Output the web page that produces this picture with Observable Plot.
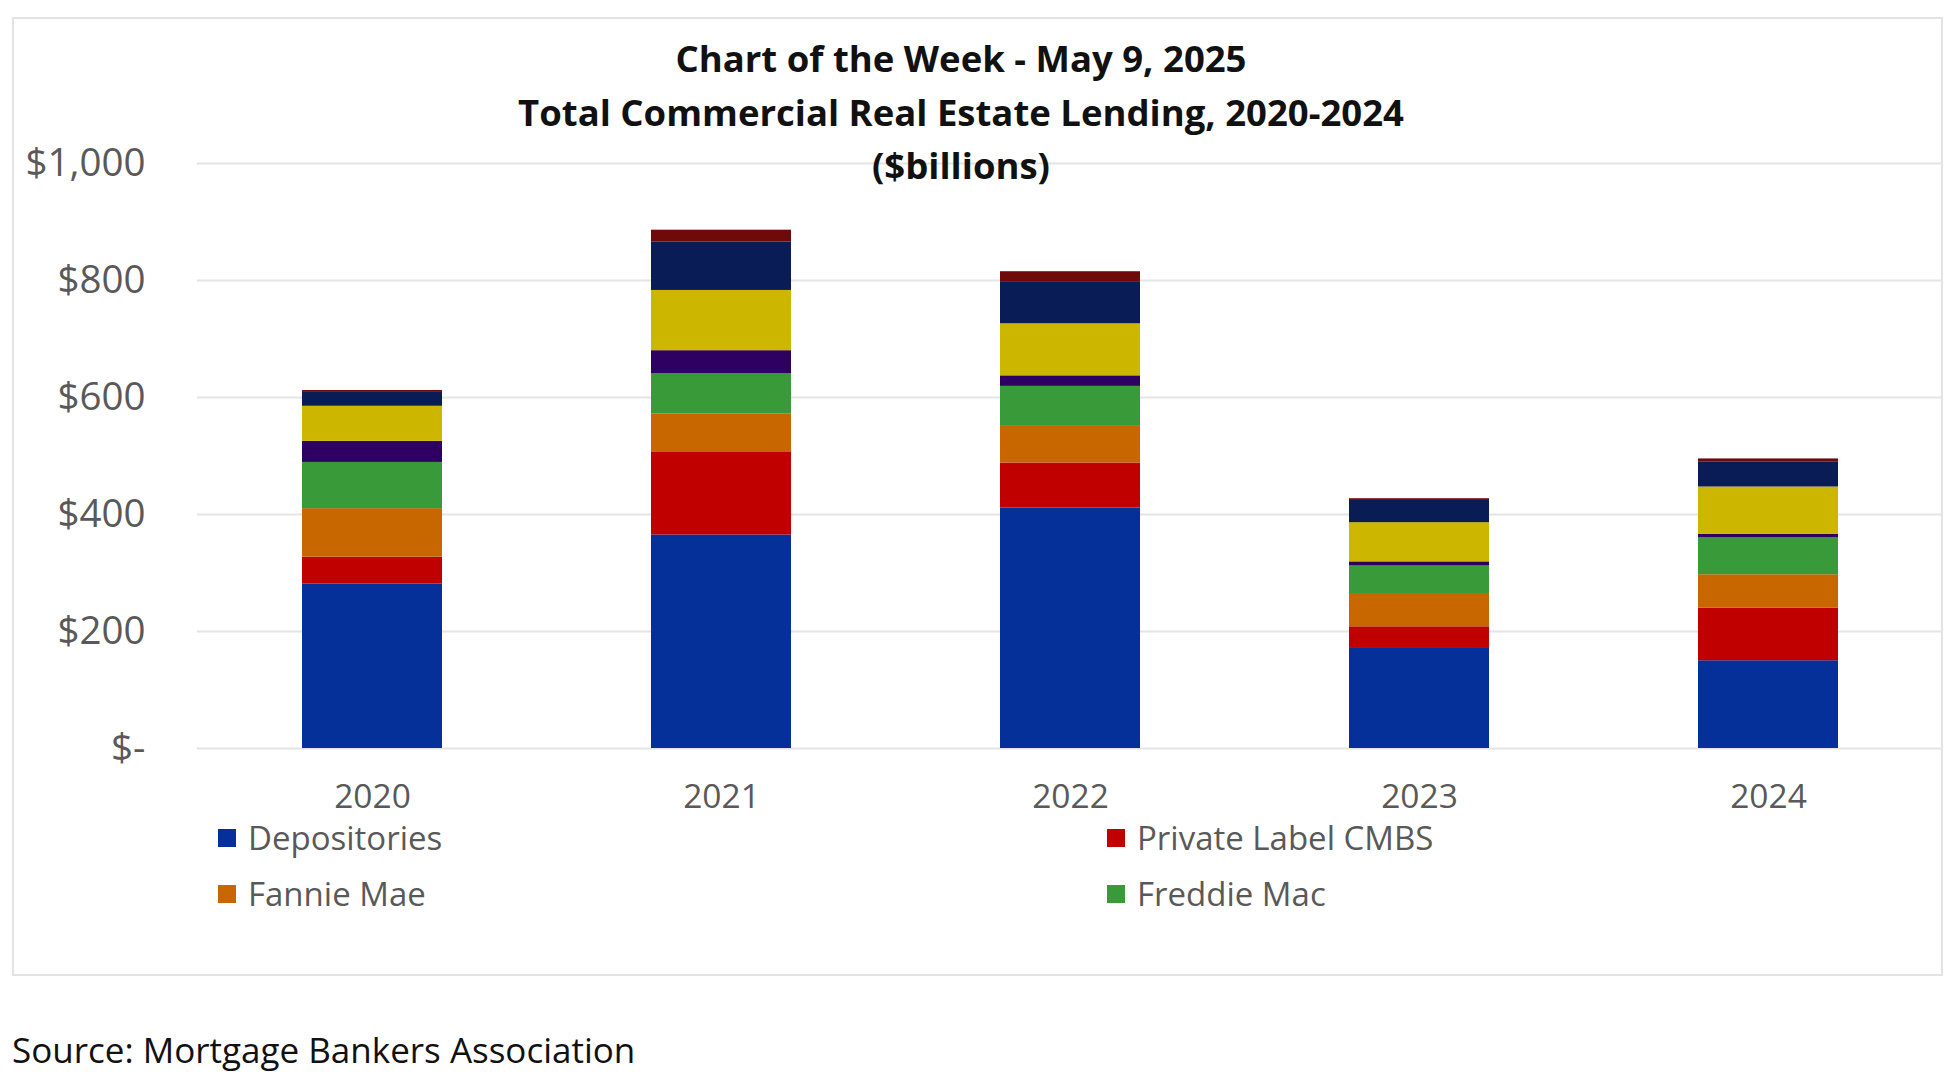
<!DOCTYPE html>
<html>
<head>
<meta charset="utf-8">
<script src="https://cdn.jsdelivr.net/npm/d3@7"></script>
<script src="https://cdn.jsdelivr.net/npm/@observablehq/plot@0.6"></script>
<style>
  html, body { margin: 0; padding: 0; background: #fff; }
  body { width: 1955px; height: 1085px; position: relative; overflow: hidden; font-family: "Open Sans", sans-serif; }
  #frame { position: absolute; left: 12px; top: 17px; width: 1927px; height: 955px; border: 2px solid #e3e3e3; box-sizing: content-box; }
  #chart { position: absolute; left: 0; top: 0; }
  .title { position: absolute; left: 0; width: 1922px; text-align: center; font-weight: 700; font-size: 36.5px; color: #111; line-height: 1; }
  .leg { position: absolute; font-size: 33px; color: #595959; line-height: 1; display: flex; align-items: center; white-space: nowrap; }
  .leg span.sw { display: inline-block; width: 18px; height: 18px; margin-right: 12px; }
  #source { position: absolute; left: 12px; top: 1032px; font-size: 35px; color: #111; line-height: 1; }
</style>
</head>
<body>
<div id="frame"></div>
<div id="chart"></div>
<div class="title" style="top:40px">Chart of the Week - May 9, 2025</div>
<div class="title" style="top:94px">Total Commercial Real Estate Lending, 2020-2024</div>
<div class="title" style="top:147px">($billions)</div>
<div id="legend"></div>
<div id="source">Source: Mortgage Bankers Association</div>
<script>
// ---- Data ($ billions) ----
const years = ["2020", "2021", "2022", "2023", "2024"];
const seriesNames = ["Depositories", "Private Label CMBS", "Fannie Mae", "Freddie Mac",
                     "FHA/Ginnie Mae", "Life Companies", "Investor-Driven Lenders", "Other"];
const depositories     = [281, 365, 411, 171, 150];
const privateLabelCMBS = [46, 141, 77, 37, 90];
const fannieMae        = [83, 66, 64, 57, 57];
const freddieMac       = [79, 69, 67, 47, 63];
const fhaGinnie        = [36, 39, 18, 7, 6];
const lifeCompanies    = [60, 103, 89, 67, 81];
const investorDriven   = [25, 83, 72, 38, 43];
const other            = [2, 20, 17, 3, 5];
const seriesColors = ["#05309a", "#c00000", "#c86600", "#389a38", "#2e0062", "#cdb600", "#0a1c55", "#6e0a0a"];
const yTicks = [0, 200, 400, 600, 800, 1000];
const legendItems = ["Depositories", "Private Label CMBS", "Fannie Mae", "Freddie Mac"];

const seriesValues = [depositories, privateLabelCMBS, fannieMae, freddieMac,
                      fhaGinnie, lifeCompanies, investorDriven, other];
const data = [];
seriesNames.forEach((s, i) => years.forEach((y, j) => data.push({year: y, series: s, value: seriesValues[i][j]})));

const fmt = d => d === 0 ? "$-" : "$" + d3.format(",")(d);

const chart = Plot.plot({
  width: 1955,
  height: 1000,
  marginTop: 163,
  marginBottom: 252,
  marginLeft: 197,
  marginRight: 13,
  style: {fontFamily: "Open Sans, sans-serif", fontSize: "34px", color: "#595959", background: "transparent"},
  x: {domain: years, paddingInner: 0.6, paddingOuter: 0.3, label: null},
  y: {domain: [0, 1000], label: null},
  color: {domain: seriesNames, range: seriesColors},
  marks: [
    Plot.gridY(yTicks, {stroke: "#e4e4e4", strokeOpacity: 1, strokeWidth: 2}),
    Plot.barY(data, {x: "year", y: "value", fill: "series"}),
    Plot.axisY(yTicks, {tickSize: 0, tickPadding: 52, tickFormat: fmt, fontSize: 38.5, label: null}),
    Plot.axisX({tickSize: 0, tickPadding: 36, fontSize: 33.5, label: null})
  ]
});
document.getElementById("chart").appendChild(chart);

// Legend (HTML, below the plot)
const legend = document.getElementById("legend");
const pos = [[218, 821], [1107, 821], [218, 877], [1107, 877]];
legendItems.forEach((name, i) => {
  const d = document.createElement("div");
  d.className = "leg";
  d.style.left = pos[i][0] + "px";
  d.style.top = pos[i][1] + "px";
  const sw = document.createElement("span");
  sw.className = "sw";
  sw.style.background = seriesColors[seriesNames.indexOf(name)];
  d.appendChild(sw);
  d.appendChild(document.createTextNode(name));
  legend.appendChild(d);
});
</script>
</body>
</html>
